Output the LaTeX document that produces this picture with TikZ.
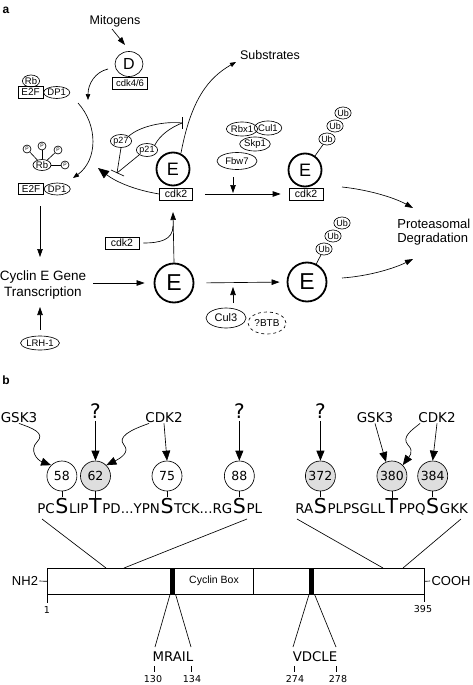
\documentclass[tikz,border=0pt]{standalone}
\usepackage{fontspec}
\setmainfont{Liberation Sans}
\newfontfamily\dvs{DejaVu Sans}
\usetikzlibrary{shapes.geometric,arrows.meta,calc}
\newcommand\myfs[1]{\fontsize{#1}{#1}\selectfont}
\begin{document}
\begin{tikzpicture}[x=1pt,y=-1pt,line width=0.65pt,
  lab/.style={font=\myfs{12.5}, inner sep=0pt},
  sbox/.style={draw, rectangle, inner sep=0pt, minimum height=11.5pt, font=\myfs{10}},
  oval/.style={draw, ellipse, inner sep=0pt, minimum height=13pt, font=\myfs{9.5}},
  Ecirc/.style={draw, circle, line width=1.8pt, inner sep=0pt, minimum size=33pt, font=\myfs{18}},
  Ebig/.style={draw, circle, line width=1.8pt, inner sep=0pt, minimum size=39pt, font=\myfs{23}},
  pcirc/.style={draw, circle, inner sep=0pt, minimum size=8pt, font=\myfs{5}},
  ar/.style={-{Triangle[length=8pt,width=5.5pt]}},
  arsm/.style={-{Triangle[length=6pt,width=4.5pt]}},
  arbig/.style={-{Triangle[length=11pt,width=9pt]}},
  arb/.style={-{Triangle[length=10pt,width=8pt]}},
  blab/.style={font=\dvs\myfs{13.5}, inner sep=0pt},
  qmark/.style={font=\dvs\myfs{20}, inner sep=0pt},
  pc/.style={draw, circle, inner sep=0pt, minimum size=30pt, font=\dvs\myfs{12.5}},
  pcg/.style={pc, fill=black!13},
  seqs/.style={anchor=base west, inner sep=0pt, font=\dvs\myfs{13.4}},
  seqb/.style={anchor=base west, inner sep=0pt, font=\dvs\myfs{20.5}},
  num/.style={font=\dvs\myfs{9.5}, inner sep=0pt},
  motif/.style={font=\dvs\myfs{13.3}, inner sep=0pt}
]
\useasboundingbox (0,0) rectangle (472,685);

% ================= panel a =================
\node[font=\bfseries\myfs{12}, inner sep=0pt] (la) at (6,10) {a};
\node[lab] (mit) at (115,21) {Mitogens};
\coordinate (mitT) at (125,45);
\draw[ar] (112,29) -- (mitT);
\node[draw, ellipse, inner sep=0pt, minimum width=28pt, minimum height=25pt, font=\myfs{16}] (D) at (129,64) {D};
\node[sbox, minimum width=35pt, minimum height=12pt, font=\myfs{9.5}] (cdk46) at (130,83) {cdk4/6};

% Rb-E2F-DP1 (top)
\node[oval, minimum width=17pt, minimum height=12pt] (rb1) at (31,81) {Rb};
\node[sbox, minimum width=25pt] (e2f1) at (30.5,92.5) {E2F};
\node[oval, minimum width=24pt, minimum height=12pt, anchor=west] (dp1) at (e2f1.east) {DP1};

\coordinate (dA) at (108,69);
\coordinate (dB) at (88,100);
\draw[arsm] (dA) .. controls (95,72) and (88,84) .. (dB);

\coordinate (rbA) at (78,103);
\coordinate (rbB) at (73,178);
\draw[arsm] (rbA) .. controls (98,125) and (98,160) .. (rbB);

% phosphorylated Rb
\node[oval, minimum width=18pt, minimum height=11pt] (rbp) at (42,165) {Rb};
\node[pcirc] (P1) at (27,149) {P};
\node[pcirc] (P2) at (42,146) {P};
\node[pcirc] (P3) at (58,150) {P};
\node[pcirc] (P4) at (65,165) {P};
\foreach \p in {P1,P2,P3,P4} \draw (rbp) -- (\p);
\node[sbox, minimum width=25pt] (e2f2) at (31,189) {E2F};
\node[oval, minimum width=24pt, minimum height=12pt, anchor=west] (dp2) at (e2f2.east) {DP1};

\coordinate (eA) at (40,206);
\coordinate (eB) at (40,257);
\draw[ar] (eA) -- (eB);

\node[font=\fontsize{13.5}{16}\selectfont, align=center, inner sep=0pt] (cyc) at (43,285) {Cyclin E Gene\\Transcription};
\node[oval, minimum width=35pt, minimum height=14pt] (lrh) at (40,343) {LRH-1};
\coordinate (lrhT) at (40,307);
\draw[ar] (lrh.north) ++(0,-6) -- (lrhT);

% middle E
\node[Ebig] (Em) at (174,283) {E};
\draw[ar, shorten <=7pt, shorten >=9pt] (cyc.east |- Em) -- (Em);
\coordinate (upT) at (173,212);
\draw[ar] (Em.north) -- (upT);
\node[sbox, minimum width=34pt, minimum height=12pt, font=\myfs{10.5}] (cdks) at (122,243) {cdk2};
\draw (cdks.east) ++(4,0) .. controls (160,243) and (173,240) .. (173,226);

% main E-cdk2
\node[Ecirc] (E1) at (173,169) {E};
\node[sbox, minimum width=33pt, minimum height=12pt, font=\myfs{10.5}] (cdk1) at (176,194) {cdk2};

% inhibitors
\node[oval, minimum width=18pt, minimum height=13pt, font=\myfs{9}] (p27) at (121,141) {p27};
\node[oval, minimum width=19pt, minimum height=13pt, font=\myfs{9}] (p21) at (147,150) {p21};

\coordinate (bigT) at (98,168);
\draw[arbig] (cdk1.west) .. controls (135,190) and (116,182) .. (bigT);
\coordinate (tb1) at (117,173);
\draw (p27.south) -- (tb1);
\draw (p21.south west) -- (tb1);
\draw (111,170) -- (124,176);

\coordinate (subT) at (236,62);
\draw[arsm] (181,153) .. controls (191,100) and (208,78) .. (subT);
\node[lab] (sub) at (270,55) {Substrates};
\coordinate (tb2) at (182,123);
\draw (p27.north east) .. controls (140,126) and (165,121) .. (tb2);
\draw (p21.north east) .. controls (160,135) and (170,128) .. (tb2);
\draw (182,117) -- (182,129);

% SCF complex
\node[oval, minimum width=29pt, minimum height=14pt] (rbx) at (242,129) {Rbx1};
\node[oval, minimum width=24pt, minimum height=14pt] (cul1) at (268,128) {Cul1};
\node[oval, minimum width=27pt, minimum height=14pt] (skp) at (255,144) {Skp1};
\node[oval, minimum width=40pt, minimum height=17pt] (fbw) at (237,161) {Fbw7};
\coordinate (fbwT) at (233,193);
\draw[ar] (233,177) -- (fbwT);

% ubiquitinated top E-cdk2
\node[Ecirc] (E2) at (305,170) {E};
\node[sbox, minimum width=34pt, minimum height=12pt, font=\myfs{10.5}] (cdk2r) at (306,194) {cdk2};
\draw[ar, shorten <=12pt, shorten >=8pt] (cdk1.east) -- (cdk2r.west);
\node[oval, minimum width=16pt, minimum height=12pt, font=\myfs{9}] (u1) at (327,139) {Ub};
\node[oval, minimum width=16pt, minimum height=12pt, font=\myfs{9}] (u2) at (335,126) {Ub};
\node[oval, minimum width=16pt, minimum height=12pt, font=\myfs{9}] (u3) at (343,113) {Ub};
\draw (E2) -- (u1);

\node[font=\fontsize{13}{14}\selectfont, align=left, inner sep=0pt, anchor=west] (prot) at (397,232) {Proteasomal\\Degradation};
\coordinate (prA) at (413,208);
\coordinate (prB) at (413,259);
\draw[ar] (342,187) .. controls (370,190) and (395,198) .. (prA);

% lower right E
\node[Ebig] (E3) at (307,282) {E};
\draw[ar, shorten <=12pt, shorten >=7pt] (Em.east) -- (E3.west);
\node[oval, minimum width=16pt, minimum height=12pt, font=\myfs{9}] (v1) at (324,249) {Ub};
\node[oval, minimum width=16pt, minimum height=12pt, font=\myfs{9}] (v2) at (333,236) {Ub};
\node[oval, minimum width=16pt, minimum height=12pt, font=\myfs{9}] (v3) at (342,223) {Ub};
\draw (E3) -- (v1);
\draw[ar] (342,278) .. controls (370,276) and (395,268) .. (prB);

\node[oval, minimum width=40pt, minimum height=20pt, font=\myfs{11}] (cul3) at (226,318) {Cul3};
\node[oval, dashed, minimum width=38pt, minimum height=22pt, font=\myfs{10}] (btb) at (267,323) {?BTB};
\coordinate (culT) at (233,287);
\draw[ar] (233,303) -- (culT);

% ================= panel b =================
\node[font=\bfseries\myfs{12}, inner sep=0pt] (lb) at (6,380) {b};

% sequences
\node[seqs] (q1) at (37,513) {PC};
\node[seqb] (q2) at (q1.base east) {S};
\node[seqs] (q3) at (q2.base east) {LIP};
\node[seqb] (q4) at (q3.base east) {T};
\node[seqs] (q5) at (q4.base east) {PD...YPN};
\node[seqb] (q6) at (q5.base east) {S};
\node[seqs] (q7) at (q6.base east) {TCK...RG};
\node[seqb] (q8) at (q7.base east) {S};
\node[seqs] (q9) at (q8.base east) {PL};

\node[seqs] (r1) at (295,513) {RA};
\node[seqb] (r2) at (r1.base east) {S};
\node[seqs] (r3) at (r2.base east) {PLPSGLL};
\node[seqb] (r4) at (r3.base east) {T};
\node[seqs] (r5) at (r4.base east) {PPQ};
\node[seqb] (r6) at (r5.base east) {S};
\node[seqs] (r7) at (r6.base east) {GKK};

\coordinate (crow) at (0,476);
\node[pc]  (c58)  at (q2 |- crow) {58};
\node[pcg] (c62)  at (q4 |- crow) {62};
\node[pc]  (c75)  at (q6 |- crow) {75};
\node[pc]  (c88)  at (q8 |- crow) {88};
\node[pcg] (c372) at (r2 |- crow) {372};
\node[pcg] (c380) at (r4 |- crow) {380};
\node[pcg] (c384) at (r6 |- crow) {384};
\draw (c58.south) -- (q2.north);
\draw (c62.south) -- (q4.north);
\draw (c75.south) -- (q6.north);
\draw (c88.south) -- (q8.north);
\draw (c372.south) -- (r2.north);
\draw (c380.south) -- (r4.north);
\draw (c384.south) -- (r6.north);

% kinase labels
\node[blab] (gskL) at (19,418) {GSK3};
\node[qmark] (qa) at (c62 |- 0,411) {?};
\node[blab] (cdkL) at (164,418) {CDK2};
\node[qmark] (qb) at (c88 |- 0,411) {?};
\node[qmark] (qc) at (c372 |- 0,411) {?};
\node[blab] (gskR) at (375,418) {GSK3};
\node[blab] (cdkR) at (437,418) {CDK2};

\draw[arb] (gskL.south) .. controls (32,428) and (46,433) .. (37,442) .. controls (29,450) and (37,460) .. (c58.north west);
\draw[arb, shorten <=2pt] (qa.south) -- (c62.north);
\draw[arb] (cdkL.south west) ++(4,0) .. controls (130,430) and (117,437) .. (124,445) .. controls (130,452) and (121,458) .. (c62.north east);
\draw[arb] (cdkL.south) -- (c75.north);
\draw[arb, shorten <=2pt] (qb.south) -- (c88.north);
\draw[arb, shorten <=2pt] (qc.south) -- (c372.north);
\coordinate (gskRT) at (386,462);
\draw[arb] (gskR.south) -- (gskRT);
\draw[arb] (cdkR.south west) ++(2,0) .. controls (412,430) and (401,437) .. (408,445) .. controls (415,452) and (408,458) .. (c380.north east);
\draw[arb] (cdkR.south) -- (c384.north);

% protein bar
\node[draw, rectangle, inner sep=0pt, minimum width=377pt, minimum height=26pt, anchor=north west] (bar) at (47,568) {};
\node[fill=black, inner sep=0pt, minimum width=5pt, minimum height=26pt, anchor=north west] (bd1) at (170,568) {};
\node[fill=black, inner sep=0pt, minimum width=5pt, minimum height=26pt, anchor=north west] (bd2) at (309,568) {};
\coordinate (dvT) at (253,568);
\coordinate (dvB) at (253,594);
\draw (dvT) -- (dvB);
\node[font=\myfs{10.5}, inner sep=0pt] (cbox) at (214,581) {Cyclin Box};
\node[font=\myfs{13}, inner sep=0pt] (nh2) at (25,581) {NH2};
\draw (nh2.east) ++(1,0) -- (bar.west);
\node[font=\myfs{13}, inner sep=0pt] (cooh) at (451,581) {COOH};
\draw (bar.east) -- ($(cooh.west)+(-1,0)$);
\draw (bar.south west) -- ++(0,8);
\node[num] (n1) at (47,610) {1};
\draw (bar.south east) -- ++(0,7);
\node[num] (n395) at (423,609) {395};

% lines from sequences to bar
\coordinate (s1a) at (42,519);
\coordinate (s1b) at (247,519);
\coordinate (b1a) at (106,568);
\coordinate (b1b) at (124,568);
\draw (s1a) -- (b1a);
\draw (s1b) -- (b1b);
\coordinate (s2a) at (297,519);
\coordinate (s2b) at (461,519);
\coordinate (b2a) at (383,568);
\coordinate (b2b) at (403,568);
\draw (s2a) -- (b2a);
\draw (s2b) -- (b2b);

% motifs
\coordinate (m1a) at (155,647);
\coordinate (m1b) at (191,647);
\draw (bd1.south west) -- (m1a);
\draw (bd1.south east) -- (m1b);
\node[motif] (mrail) at (173,657) {MRAIL};
\draw (154,666) -- (154,672);
\draw (191,666) -- (191,672);
\node[num] (n130) at (153,679) {130};
\node[num] (n134) at (192,679) {134};

\coordinate (m2a) at (293,647);
\coordinate (m2b) at (336,647);
\draw (bd2.south west) -- (m2a);
\draw (bd2.south east) -- (m2b);
\node[motif] (vdcle) at (315,657) {VDCLE};
\draw (294,666) -- (294,672);
\draw (336,666) -- (336,672);
\node[num] (n274) at (295,679) {274};
\node[num] (n278) at (338,679) {278};
\end{tikzpicture}
\end{document}
